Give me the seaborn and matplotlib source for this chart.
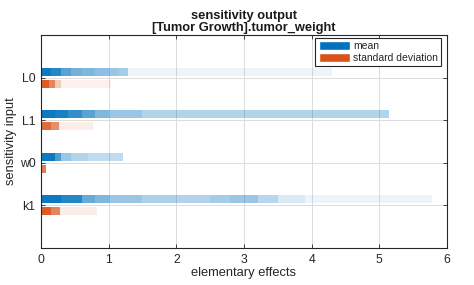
import matplotlib
matplotlib.use("Agg")
import matplotlib.pyplot as plt
import seaborn as sns
import pandas as pd
from matplotlib.patches import Patch

# sensitivity inputs (top to bottom)
params = ["L0", "L1", "w0", "k1"]

# shaded bars: segment edges along the elementary effects axis, and the shade of each segment
mean_edges = [
    [0, 0.15, 0.3, 0.45, 0.6, 0.8, 1.0, 1.15, 1.28, 4.3],
    [0, 0.2, 0.4, 0.6, 0.8, 1.0, 1.5, 5.15],
    [0, 0.2, 0.3, 0.45, 0.7, 1.21],
    [0, 0.3, 0.6, 0.8, 1.0, 1.5, 2.0, 2.5, 2.8, 3.2, 3.5, 3.9, 5.78],
]
mean_shade = [
    [0.95, 0.85, 0.65, 0.55, 0.5, 0.45, 0.4, 0.35, 0.07],
    [0.95, 0.9, 0.8, 0.65, 0.5, 0.4, 0.3],
    [0.95, 0.7, 0.4, 0.3, 0.25],
    [0.95, 0.85, 0.6, 0.5, 0.4, 0.32, 0.3, 0.35, 0.4, 0.28, 0.15, 0.07],
]
std_edges = [
    [0, 0.12, 0.2, 0.3, 1.03],
    [0, 0.15, 0.27, 0.77],
    [0, 0.07],
    [0, 0.15, 0.28, 0.83],
]
std_shade = [
    [0.95, 0.7, 0.3, 0.08],
    [0.85, 0.65, 0.1],
    [0.75],
    [0.95, 0.7, 0.1],
]

blue = "#0072BD"
orange = "#D95319"

rows = []
for i, p in enumerate(params):
    for kind, edges, shade in [("mean", mean_edges[i], mean_shade[i]),
                               ("std", std_edges[i], std_shade[i])]:
        for j in range(len(shade)):
            rows.append({"param": p, "pos": i + 1, "kind": kind,
                         "left": edges[j], "width": edges[j + 1] - edges[j],
                         "alpha": shade[j]})
df = pd.DataFrame(rows)

sns.set_style("ticks")
plt.rcParams["font.family"] = ["Liberation Sans", "DejaVu Sans"]

fig = plt.figure(figsize=(4.74, 2.85), dpi=100)
ax = fig.add_axes([0.0865, 0.130, 0.8565, 0.747])

ax.grid(True, color="#dcdcdc", linewidth=0.7)
ax.set_axisbelow(True)

for _, r in df.iterrows():
    if r["kind"] == "mean":
        y, c = r["pos"] - 0.14, blue
    else:
        y, c = r["pos"] + 0.14, orange
    ax.barh(y, r["width"], left=r["left"], height=0.19, color=c,
            alpha=r["alpha"], edgecolor="none", linewidth=0)

ax.set_xlim(0, 6)
ax.set_ylim(5, 0)
ax.set_xticks(range(0, 7))
ax.set_yticks(range(1, 5))
ax.set_yticklabels(params)
ax.tick_params(direction="in", top=True, right=True, length=3, width=0.6,
               labelsize=8.8, colors="#262626", pad=4)
for s in ax.spines.values():
    s.set_color("#262626")
    s.set_linewidth(0.8)

ax.set_xlabel("elementary effects", fontsize=9.3, color="#262626", labelpad=1)
ax.set_ylabel("sensitivity input", fontsize=9.3, color="#262626", labelpad=2)
ax.set_title("sensitivity output\n[Tumor Growth].tumor_weight", fontsize=9.3,
             fontweight="bold", color="#1a1a1a", pad=3, linespacing=1.0)

handles = [Patch(facecolor=blue, label="mean"),
           Patch(facecolor=orange, label="standard deviation")]
leg = ax.legend(handles=handles, loc="upper right", fontsize=7.5, frameon=True,
                fancybox=False, edgecolor="#262626", framealpha=1,
                handlelength=3.0, handleheight=0.9, borderpad=0.3,
                labelspacing=0.15, handletextpad=0.3,
                bbox_to_anchor=(0.985, 0.985), borderaxespad=0)
leg.get_frame().set_linewidth(0.8)

fig.savefig("out.png", dpi=100)
